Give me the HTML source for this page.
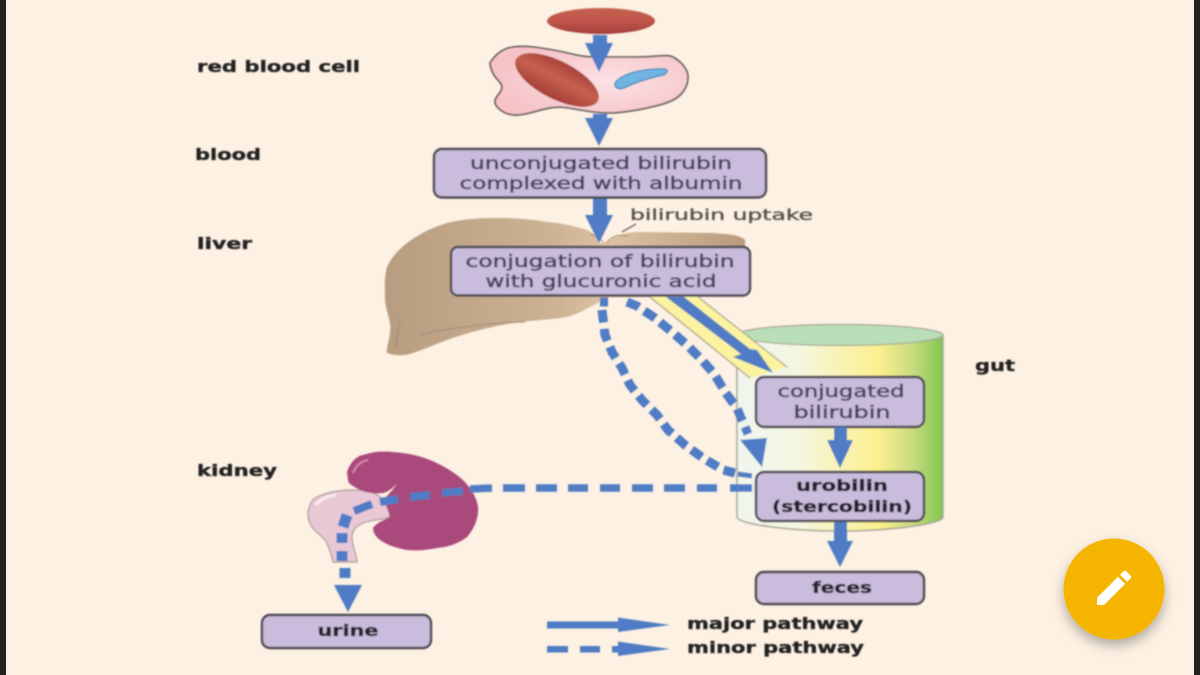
<!DOCTYPE html>
<html>
<head>
<meta charset="utf-8">
<style>
html,body{margin:0;padding:0;width:1200px;height:675px;overflow:hidden;background:#fdf1e3}
svg{display:block}
text{font-family:"DejaVu Sans","Liberation Sans",sans-serif}
.lb{font-weight:bold;font-size:16px;fill:#222;stroke:#222;stroke-width:.35}
.bt{font-size:16.5px;fill:#47435a;stroke:#47435a;stroke-width:.45;text-anchor:middle}
.bd{font-weight:bold;font-size:16px;fill:#24222b;stroke:#24222b;stroke-width:.35;text-anchor:middle}
.box{fill:#c9bcdc;stroke:#4b4852;stroke-width:2.4}
.dh{stroke:#4f7bc4;stroke-width:7.5;fill:none}
.dk{stroke:#4f7bc4;stroke-width:9;fill:none}
</style>
</head>
<body>
<svg width="1200" height="675" viewBox="0 0 1200 675" xmlns="http://www.w3.org/2000/svg">
<defs>
<filter id="b" x="-5%" y="-5%" width="110%" height="110%"><feGaussianBlur stdDeviation="0.75"/></filter>
<filter id="s" x="-30%" y="-30%" width="160%" height="170%"><feDropShadow dx="0" dy="6" stdDeviation="6" flood-color="#000" flood-opacity="0.3"/></filter>
<linearGradient id="cyl" x1="0" x2="1" y1="0" y2="0">
<stop offset="0" stop-color="#f0f5ee"/><stop offset="0.3" stop-color="#f4f6e0"/><stop offset="0.68" stop-color="#fdf08f"/><stop offset="0.85" stop-color="#c9dc80"/><stop offset="1" stop-color="#80c650"/>
</linearGradient>
<linearGradient id="liv" x1="0" x2="1" y1="0" y2="0">
<stop offset="0" stop-color="#b79c80"/><stop offset="0.45" stop-color="#cbb092"/><stop offset="0.62" stop-color="#dcc3a3"/><stop offset="1" stop-color="#b89a7c"/>
</linearGradient>
<radialGradient id="cell" cx="0.6" cy="0.5" r="0.6"><stop offset="0" stop-color="#fbe2e6"/><stop offset="1" stop-color="#f6c2c6"/></radialGradient>
<linearGradient id="rbc" x1="0" x2="0" y1="0" y2="1"><stop offset="0" stop-color="#c4604f"/><stop offset="0.5" stop-color="#c0554a"/><stop offset="1" stop-color="#a33e3a"/></linearGradient>
<linearGradient id="rbc2" x1="0" x2="0" y1="0" y2="1"><stop offset="0" stop-color="#a8423a"/><stop offset="0.45" stop-color="#c5604f"/><stop offset="1" stop-color="#a63f38"/></linearGradient>
</defs>
<rect width="1200" height="675" fill="#fdf1e3"/>
<g filter="url(#b)">
<!-- RBC -->
<ellipse cx="601" cy="21" rx="54" ry="13" fill="url(#rbc)"/>
<!-- cell -->
<path d="M490 63C497 52 505 48 513 47C530 45 545 49 553 50C570 53 580 57 593 57L640 57C655 57 668 54 673 57C682 62 688 70 688 77C688 88 681 96 673 100C665 104 656 106 647 108C633 111 620 113 607 113C590 113 575 108 560 107C543 107 528 116 513 115C505 114 497 109 495 103C494 97 502 93 502 87C502 81 492 79 490 63Z" fill="url(#cell)" stroke="#55504e" stroke-width="1.6"/>
<ellipse cx="557" cy="80" rx="46" ry="19" transform="rotate(27 557 80)" fill="url(#rbc2)"/>
<path d="M615 83C622 73 645 68 665 69C669 70 667 74 663 75C650 78 634 83 624 88C619 90 614 88 615 83Z" fill="#6fb4e4" stroke="#3f86bb" stroke-width="1.3"/>
<!-- liver -->
<path d="M600 243C597 236 592 232 587 230C575 226 560 223 547 222C530 219 515 218 497 218C480 218 463 219 447 223C430 228 418 235 407 243C398 250 391 258 387 267C384 278 385 290 385 300C386 312 392 322 390 333C389 342 386 348 387 353C396 356 404 356 413 353C425 349 436 344 447 340C470 332 490 327 513 323C532 320 550 320 567 317C582 313 592 305 610 297L650 297L745 250L745 240C741 235 728 234 713 233L640 232C625 232 615 236 606 243Z" fill="url(#liv)"/>
<path d="M400 318C398 330 397 340 395 348M420 335C445 328 500 322 525 322M606 243C612 236 618 234 628 236M604 243C600 238 596 236 590 234" stroke="#a28a72" stroke-width="1" fill="none"/>
<path d="M622 232L636 224" stroke="#555" stroke-width="1.2" fill="none"/>
<!-- arrows top -->
<path d="M593 35H607V43H613L599 72L585 43H593Z" fill="#4f7bc4"/>
<path d="M593 114H607V118H613L599 146L585 118H593Z" fill="#4f7bc4"/>
<path d="M593 198H607V215H613L599 243L585 215H593Z" fill="#4f7bc4"/>
<!-- cylinder -->
<path d="M737 335V517C737 524 790 531 840 531C890 531 943 524 943 517V335Z" fill="url(#cyl)" stroke="#a9a596" stroke-width="1.5"/>
<ellipse cx="840" cy="335" rx="103" ry="10.5" fill="#b9dfb8" stroke="#a9a596" stroke-width="1.2"/>
<!-- yellow band -->
<path d="M650 297L750 378L787 367L698 297Z" fill="#fbf3a0"/>
<path d="M650 297L750 378M698 297L787 367" stroke="#a9a18a" stroke-width="1.2" fill="none"/>
<path d="M666 297H684L750 349L757 350L773 373L733 357L741 354Z" fill="#4f7bc4"/>
<!-- dashed curves -->
<path d="M608 302L600 302" class="dk"/>
<path d="M602 310L605 335L612 352L622 368L630 385L642 400L657 415L668 430L685 445L703 458L723 470L735 473" class="dk" stroke-dasharray="12.5 6.5"/>
<path d="M738 474L752 476" stroke="#4f7bc4" stroke-width="5" fill="none"/>
<path d="M627 302L637 306L655 318L672 332L687 345L702 360L715 375L725 392L737 408L748 434" class="dk" stroke-dasharray="13 6.5"/>
<path d="M740 440L767 438L762 467Z" fill="#4f7bc4"/>
<!-- box 2 -->
<rect class="box" x="451" y="247" width="299" height="48.5" rx="7"/>
<text class="bt" x="600" y="267" textLength="269" lengthAdjust="spacingAndGlyphs">conjugation of bilirubin</text>
<text class="bt" x="601" y="287" textLength="231" lengthAdjust="spacingAndGlyphs">with glucuronic acid</text>
<!-- box 1 -->
<rect class="box" x="434" y="149" width="332" height="48.5" rx="8"/>
<text class="bt" x="601" y="169" textLength="262" lengthAdjust="spacingAndGlyphs">unconjugated bilirubin</text>
<text class="bt" x="601" y="189" textLength="283" lengthAdjust="spacingAndGlyphs">complexed with albumin</text>
<!-- kidney -->
<path d="M308 512C310 503 312 499 317 497C330 491 342 490 353 490C365 490 375 492 380 497C386 503 389 510 390 517C380 520 370 520 363 523C355 527 352 531 352 537C352 545 356 553 357 562H333C331 553 329 546 325 540C320 534 312 530 310 523C308 520 308 516 308 512Z" fill="#e9c7d5" stroke="#a89a96" stroke-width="1.2"/>
<path d="M347 472C350 463 356 456 363 455C375 451 385 451 393 452C408 453 420 456 430 460C444 466 454 472 463 480C471 488 477 498 478 507C479 518 474 529 467 537C458 544 448 547 437 548C427 550 417 551 407 550C396 548 387 545 380 540C375 536 373 532 373 528C377 522 385 520 390 517C389 510 386 505 383 500C388 495 393 490 397 483C393 488 388 492 383 493C375 494 367 493 360 490C353 486 348 484 348 480Z" fill="#a94a7c"/>
<path d="M353 473C356 465 362 461 368 460" stroke="#d98ab0" stroke-width="2" fill="none"/>
<path d="M316 505C320 499 328 496 336 495" stroke="#fbeaf1" stroke-width="3" fill="none"/>
<!-- kidney dashes -->
<path d="M752 488H730M717 488H697M685 488H664M653 488H632M620 488H600M588 488H568M557 488H536M525 488H503" class="dh"/>
<path d="M492 488L470 489M463 491L442 493" class="dh"/>
<path d="M430 495L410 497M398 499L380 502" stroke="#4f7bc4" stroke-width="8" fill="none"/>
<path d="M372 504L354 511" stroke="#4f7bc4" stroke-width="8" fill="none"/>
<path d="M347 515L343 527" stroke="#4f7bc4" stroke-width="11" fill="none"/>
<path d="M342 533V543M342 551V561M345 568V578" stroke="#4f7bc4" stroke-width="11" fill="none"/>
<path d="M334 585H362L348 612Z" fill="#4f7bc4"/>
<!-- conjugated etc -->
<rect class="box" x="756" y="377" width="168" height="50" rx="8"/>
<text class="bt" x="841" y="397" textLength="127" lengthAdjust="spacingAndGlyphs">conjugated</text>
<text class="bt" x="842" y="418" textLength="97" lengthAdjust="spacingAndGlyphs">bilirubin</text>
<path d="M834 427H847V440H853L840 468L827 440H834Z" fill="#4f7bc4"/>
<rect class="box" x="756" y="472" width="168" height="49" rx="8"/>
<text class="bd" x="842" y="491" textLength="92" lengthAdjust="spacingAndGlyphs">urobilin</text>
<text class="bd" x="842" y="512" textLength="140" lengthAdjust="spacingAndGlyphs">(stercobilin)</text>
<path d="M834 522H847V541H853L840 567L827 541H834Z" fill="#4f7bc4"/>
<rect class="box" x="756" y="572" width="168" height="32" rx="8"/>
<text class="bd" x="842" y="593" textLength="60" lengthAdjust="spacingAndGlyphs">feces</text>
<rect class="box" x="262" y="615" width="169" height="33" rx="8"/>
<text class="bd" x="348" y="636" textLength="61" lengthAdjust="spacingAndGlyphs">urine</text>
<!-- legend -->
<path d="M547 621.5H618V617.5L670 625L618 632V628.5H547Z" fill="#4f7bc4"/>
<rect x="547" y="646" width="21" height="6.5" fill="#4f7bc4"/>
<rect x="580" y="646" width="20" height="6.5" fill="#4f7bc4"/>
<path d="M612 646H618V641.5L670 649L618 656V652.5H612Z" fill="#4f7bc4"/>
<!-- labels -->
<text class="lb" x="197" y="72" textLength="163" lengthAdjust="spacingAndGlyphs">red blood cell</text>
<text class="lb" x="195" y="160" textLength="66" lengthAdjust="spacingAndGlyphs">blood</text>
<text class="lb" x="197" y="249" textLength="55" lengthAdjust="spacingAndGlyphs">liver</text>
<text class="lb" x="975" y="371" textLength="40" lengthAdjust="spacingAndGlyphs">gut</text>
<text class="lb" x="197" y="476" textLength="80" lengthAdjust="spacingAndGlyphs">kidney</text>
<text class="lb" x="687" y="629" textLength="176" lengthAdjust="spacingAndGlyphs">major pathway</text>
<text class="lb" x="687" y="653" textLength="177" lengthAdjust="spacingAndGlyphs">minor pathway</text>
<text x="630" y="220" font-size="15.5" fill="#55524a" stroke="#55524a" stroke-width=".35" textLength="183" lengthAdjust="spacingAndGlyphs">bilirubin uptake</text>
</g>
<!-- side bars -->
<rect x="0" y="0" width="6" height="675" fill="#222"/>
<rect x="1194" y="0" width="6" height="675" fill="#222"/>
<!-- FAB -->
<circle cx="1114" cy="589" r="50.5" fill="#f5b400" filter="url(#s)"/>
<path transform="translate(1091.3 565) scale(1.9)" fill="#fff" d="M3 17.25V21h3.75L17.81 9.94l-3.75-3.75L3 17.25zM20.71 7.04c.39-.39.39-1.02 0-1.41l-2.34-2.34c-.39-.39-1.02-.39-1.41 0l-1.83 1.83 3.75 3.75 1.83-1.83z"/>
</svg>
</body>
</html>
